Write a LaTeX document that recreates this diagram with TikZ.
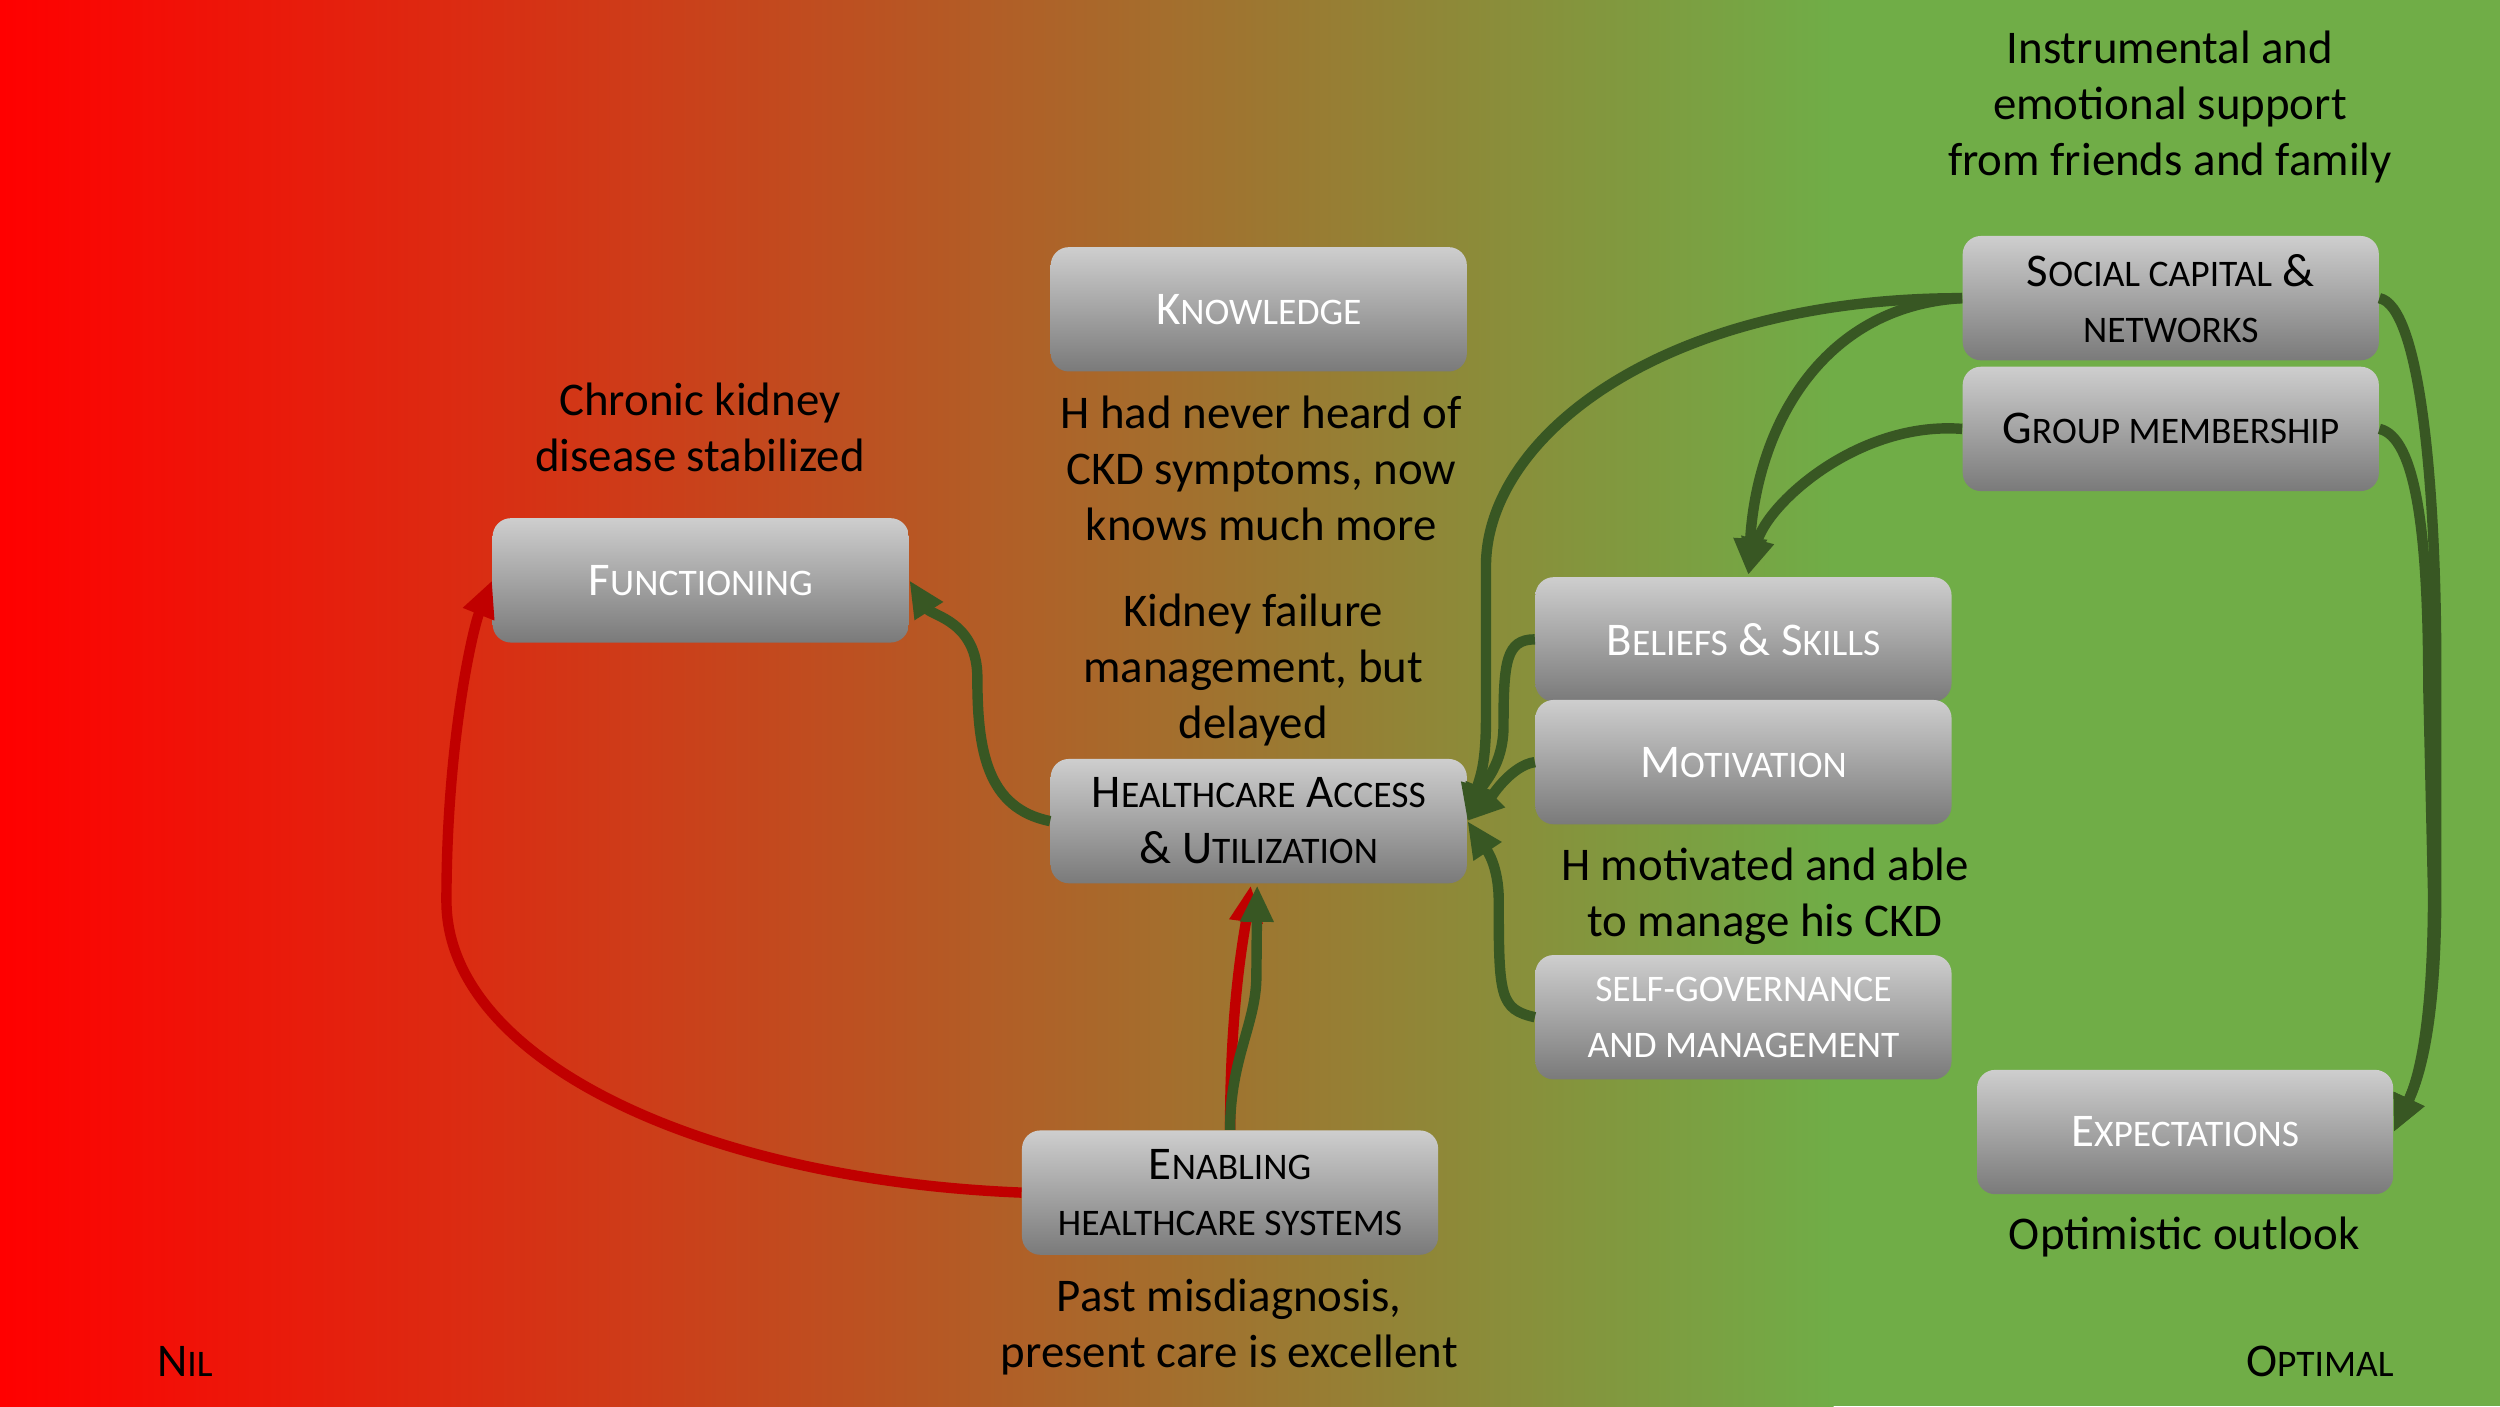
\documentclass[tikz,border=0pt]{standalone}
\usepackage{fontspec}
\setmainfont{Carlito}
\usetikzlibrary{arrows.meta,calc}
\definecolor{bgred}{RGB}{255,0,0}
\definecolor{bggreen}{RGB}{112,173,71}
\definecolor{dgreen}{RGB}{56,87,35}
\definecolor{dred}{RGB}{192,0,0}
\definecolor{boxtop}{RGB}{206,206,206}
\definecolor{boxbot}{RGB}{122,122,122}
\newcommand\smc[1]{{\fontsize{14.4}{21.5}\selectfont #1}}
\tikzset{
  box/.style={rounded corners=7pt, top color=boxtop, bottom color=boxbot,
    minimum width=159.8pt, minimum height=47.75pt, inner sep=0pt,
    align=center, font=\fontsize{18}{21.5}\selectfont},
  wbox/.style={box, text=white},
  bbox/.style={box, text=black},
  lbl/.style={align=center, inner sep=0pt, font=\fontsize{18}{21.5}\selectfont},
  garrow/.style={draw=dgreen, line width=4pt, -{Triangle[length=14pt,width=12pt]}},
  rarrow/.style={draw=dred, line width=4pt, -{Triangle[length=14pt,width=12pt]}},
}
\begin{document}
\begin{tikzpicture}[x=0.6122pt,y=-0.6122pt]
\useasboundingbox (0,0) rectangle (1568,882);
\shade[left color=bgred, right color=bggreen] (0,0) rectangle (1150,882);
\fill[bggreen] (1149.5,0) rectangle (1568,882);

% boxes
\node[wbox] (kn) at (789.5,194) {K\smc{NOWLEDGE}};
\node[wbox] (fn) at (439.5,364) {F\smc{UNCTIONING}};
\node[bbox] (ha) at (789.5,515) {H\smc{EALTHCARE} A\smc{CCESS}\\\& U\smc{TILIZATION}};
\node[bbox] (en) at (771.5,748) {E\smc{NABLING}\\\smc{HEALTHCARE SYSTEMS}};
\node[bbox] (sc) at (1361.5,187) {S\smc{OCIAL CAPITAL} \&\\\smc{NETWORKS}};
\node[bbox] (gm) at (1361.5,269) {G\smc{ROUP MEMBERSHIP}};
\node[wbox] (bs) at (1093.5,401) {B\smc{ELIEFS} \& S\smc{KILLS}};
\node[wbox] (mo) at (1093.5,478) {M\smc{OTIVATION}};
\node[wbox] (sg) at (1093.5,638) {\smc{SELF-GOVERNANCE}\\\smc{AND MANAGEMENT}};
\node[wbox] (ex) at (1370.5,710) {E\smc{XPECTATIONS}};

% labels
\node[lbl] (l1) at (1361,67) {Instrumental and\\emotional support\\from friends and family};
\node[lbl] (l2) at (439,268) {Chronic kidney\\disease stabilized};
\node[lbl] (l3) at (791,294) {H had never heard of\\CKD symptoms, now\\knows much more};
\node[lbl] (l4) at (786,420) {Kidney failure\\management, but\\delayed};
\node[lbl] (l5) at (1107,562) {H motivated and able\\to manage his CKD};
\node[lbl] (l6) at (1370,776) {Optimistic outlook};
\node[lbl] (l7) at (771,832) {Past misdiagnosis,\\present care is excellent};
\node[lbl] (nil) at (116,854) {N\smc{IL}};
\node[lbl] (opt) at (1455,854) {O\smc{PTIMAL}};

% connectors
\draw[rarrow] (en.west) .. controls +(-200,-8) and +(0,100) .. (280,565)
   .. controls +(0,-100) and +(-12,30) .. (fn.west);
\draw[garrow] (ha.west) .. controls +(-40,-8) and +(0,45) .. (613,425)
   .. controls +(0,-35) and +(14,22) .. (fn.east);
\draw[rarrow] (en.north) .. controls +(0,-80) and +(-4,30) .. ($(ha.south)+(-5,1)$);
\draw[garrow] (en.north) .. controls +(0,-45) and +(0,30) .. (788,612) -- ($(ha.south)+(-1,1)$);

\draw[garrow] (sc.west) .. controls +(-190,0) and +(0,-80) .. (932,355) -- (932,450)
   .. controls +(0,30) and +(8,-28) .. (ha.east);
\draw[garrow] (sc.west) .. controls +(-90,5) and +(5,-90) .. ($(bs.north)+(3,-1)$);
\draw[garrow] (gm.west) .. controls +(-65,-5) and +(12,-45) .. ($(bs.north)+(3,-1)$);

\draw[garrow] (sc.east) .. controls +(25,5) and +(0,-120) .. (1528,420) -- (1528,560)
   .. controls +(0,90) and +(14,-30) .. (ex.east);
\draw[garrow] (gm.east) .. controls +(22,5) and +(0,-100) .. (1523,430) -- (1526,560)
   .. controls +(0,90) and +(14,-30) .. (ex.east);

\draw[garrow] (bs.west) .. controls +(-18,0) and +(0,-40) .. (943,455)
   .. controls +(0,25) and +(10,-24) .. (ha.east);
\draw[garrow] (mo.west) .. controls +(-15,2) and +(14,-14) .. (ha.east);
\draw[garrow] (sg.west) .. controls +(-22,-5) and +(0,60) .. (940,565)
   .. controls +(0,-22) and +(12,18) .. (ha.east);
\end{tikzpicture}
\end{document}
